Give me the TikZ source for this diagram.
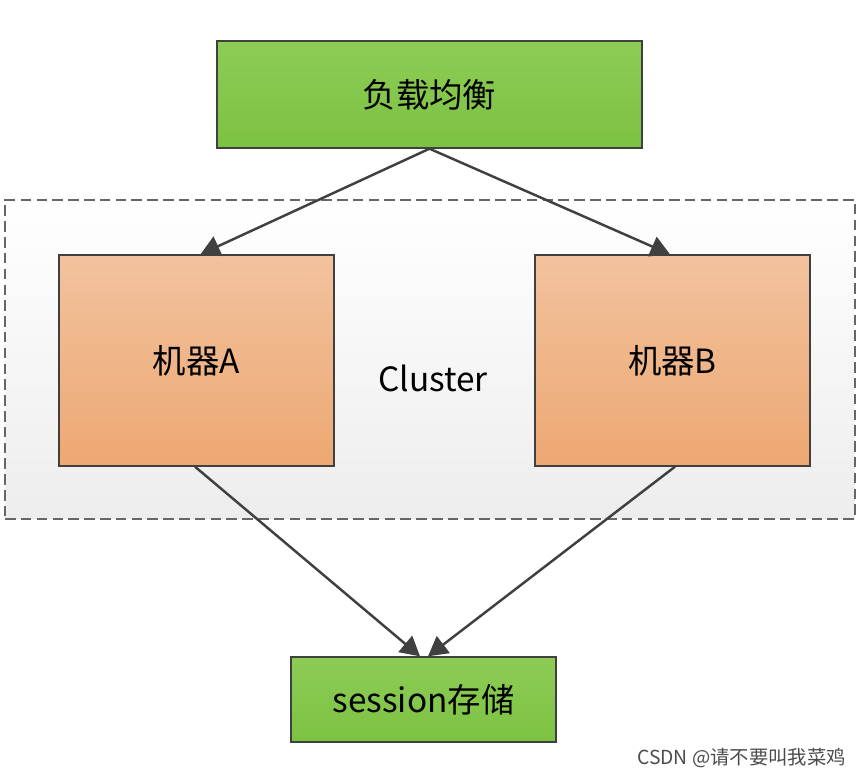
\documentclass[tikz,border=0pt]{standalone}
\usepackage{fontspec}
\setmainfont{Noto Sans CJK SC}
\usetikzlibrary{arrows.meta}
\definecolor{grn}{HTML}{7CC242}
\definecolor{grnl}{HTML}{8DCC55}
\definecolor{orgt}{HTML}{F2C29E}
\definecolor{orgb}{HTML}{EDA873}
\definecolor{edge}{HTML}{404040}
\tikzset{
  px/.style={x=0.02cm,y=-0.02cm},
  gbox/.style={draw=edge,thick,top color=grnl,bottom color=grn,inner sep=0,font=\fontsize{19}{22}\selectfont},
  obox/.style={draw=edge,thick,top color=orgt,bottom color=orgb,minimum width=5.5cm,minimum height=4.22cm,inner sep=0,font=\fontsize{19}{22}\selectfont},
  conn/.style={draw=edge,line width=1.4pt,-{Triangle[length=11pt,width=12pt]}}
}
\begin{document}
\begin{tikzpicture}[px]
\useasboundingbox (0,0) rectangle (865,777);
% cluster
\node[draw=black!60,dash pattern=on 6pt off 3pt,thick,top color=white,bottom color=black!7,minimum width=17cm,minimum height=6.38cm,inner sep=0] (cl) at (430,359.5) {};
\node[font=\fontsize{19}{22}\selectfont] (ct) at (433,378) {Cluster};
\node[gbox,minimum width=8.5cm,minimum height=2.14cm] (lb) at (429.5,94.5) {负载均衡};
\node[obox] (a) at (196.5,360.5) {机器A};
\node[obox] (b) at (672.5,360.5) {机器B};
\node[gbox,minimum width=5.3cm,minimum height=1.7cm] (s) at (423.5,699.5) {session存储};
\draw[conn] (lb.south) -- ([xshift=0.08cm]a.north);
\draw[conn] (lb.south) -- ([xshift=-0.05cm]b.north);
\draw[conn] ([xshift=-0.03cm]a.south) -- ([xshift=-0.07cm]s.north);
\draw[conn] ([xshift=0.05cm]b.south) -- ([xshift=0.09cm]s.north);
\node[font=\fontsize{11}{13}\selectfont,text=black!70,anchor=east] (wm) at (852,758) {CSDN @请不要叫我菜鸡};
\end{tikzpicture}
\end{document}
